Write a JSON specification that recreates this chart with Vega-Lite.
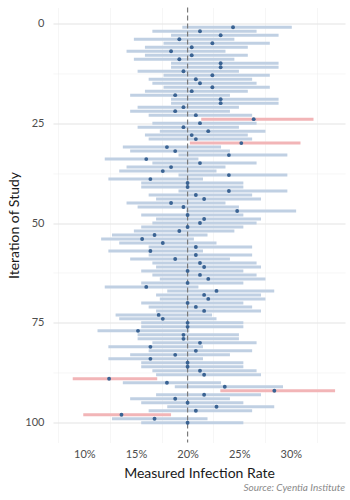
{
  "$schema": "https://vega.github.io/schema/vega-lite/v6.json",
  "width": 292,
  "height": 435,
  "autosize": {"type": "none"},
  "padding": {"left": 53, "top": 7.5, "right": 5, "bottom": 57.5},
  "background": "white",
  "title": {"text": "Source: Cyentia Institute", "orient": "bottom", "anchor": "end", "fontStyle": "italic", "fontWeight": "normal", "fontSize": 10, "color": "#8a8a8a", "font": "Lato", "offset": 2},
  "config": {
    "view": {"stroke": null},
    "font": "Lato",
    "axis": {"domain": false, "ticks": false, "labelFont": "Lato", "titleFont": "Lato", "labelColor": "#4d4d4d", "titleColor": "#1a1a1a", "titleFontWeight": "normal", "labelFontSize": 11, "titleFontSize": 14}
  },
  "resolve": {"axis": {"x": "independent"}},
  "datasets": {
    "sims": [
      {"i":1,"p":24.4,"lo":19.49,"hi":30.09,"c":"in"},
      {"i":2,"p":21.2,"lo":16.59,"hi":26.68,"c":"in"},
      {"i":3,"p":23.2,"lo":18.40,"hi":28.81,"c":"in"},
      {"i":4,"p":19.2,"lo":14.80,"hi":24.53,"c":"in"},
      {"i":5,"p":22.4,"lo":17.67,"hi":27.96,"c":"in"},
      {"i":6,"p":20.4,"lo":15.87,"hi":25.83,"c":"in"},
      {"i":7,"p":18.4,"lo":14.09,"hi":23.67,"c":"in"},
      {"i":8,"p":20.4,"lo":15.87,"hi":25.83,"c":"in"},
      {"i":9,"p":19.2,"lo":14.80,"hi":24.53,"c":"in"},
      {"i":10,"p":23.2,"lo":18.40,"hi":28.81,"c":"in"},
      {"i":11,"p":23.2,"lo":18.40,"hi":28.81,"c":"in"},
      {"i":12,"p":19.6,"lo":15.16,"hi":24.97,"c":"in"},
      {"i":13,"p":22.4,"lo":17.67,"hi":27.96,"c":"in"},
      {"i":14,"p":20.8,"lo":16.23,"hi":26.25,"c":"in"},
      {"i":15,"p":21.2,"lo":16.59,"hi":26.68,"c":"in"},
      {"i":16,"p":22.4,"lo":17.67,"hi":27.96,"c":"in"},
      {"i":17,"p":20.4,"lo":15.87,"hi":25.83,"c":"in"},
      {"i":18,"p":18.8,"lo":14.44,"hi":24.10,"c":"in"},
      {"i":19,"p":23.2,"lo":18.40,"hi":28.81,"c":"in"},
      {"i":20,"p":23.2,"lo":18.40,"hi":28.81,"c":"in"},
      {"i":21,"p":19.6,"lo":15.16,"hi":24.97,"c":"in"},
      {"i":22,"p":18.8,"lo":14.44,"hi":24.10,"c":"in"},
      {"i":23,"p":20.8,"lo":16.23,"hi":26.25,"c":"in"},
      {"i":24,"p":26.4,"lo":21.32,"hi":32.19,"c":"out"},
      {"i":25,"p":21.2,"lo":16.59,"hi":26.68,"c":"in"},
      {"i":26,"p":19.6,"lo":15.16,"hi":24.97,"c":"in"},
      {"i":27,"p":22.0,"lo":17.31,"hi":27.54,"c":"in"},
      {"i":28,"p":20.4,"lo":15.87,"hi":25.83,"c":"in"},
      {"i":29,"p":20.8,"lo":16.23,"hi":26.25,"c":"in"},
      {"i":30,"p":25.2,"lo":20.22,"hi":30.93,"c":"out"},
      {"i":31,"p":18.0,"lo":13.73,"hi":23.24,"c":"in"},
      {"i":32,"p":18.8,"lo":14.44,"hi":24.10,"c":"in"},
      {"i":33,"p":24.0,"lo":19.12,"hi":29.66,"c":"in"},
      {"i":34,"p":16.0,"lo":11.98,"hi":21.05,"c":"in"},
      {"i":35,"p":21.2,"lo":16.59,"hi":26.68,"c":"in"},
      {"i":36,"p":18.4,"lo":14.09,"hi":23.67,"c":"in"},
      {"i":37,"p":17.6,"lo":13.38,"hi":22.80,"c":"in"},
      {"i":38,"p":24.0,"lo":19.12,"hi":29.66,"c":"in"},
      {"i":39,"p":16.4,"lo":12.33,"hi":21.49,"c":"in"},
      {"i":40,"p":20.0,"lo":15.51,"hi":25.40,"c":"in"},
      {"i":41,"p":20.0,"lo":15.51,"hi":25.40,"c":"in"},
      {"i":42,"p":24.0,"lo":19.12,"hi":29.66,"c":"in"},
      {"i":43,"p":20.8,"lo":16.23,"hi":26.25,"c":"in"},
      {"i":44,"p":21.6,"lo":16.95,"hi":27.11,"c":"in"},
      {"i":45,"p":18.4,"lo":14.09,"hi":23.67,"c":"in"},
      {"i":46,"p":19.6,"lo":15.16,"hi":24.97,"c":"in"},
      {"i":47,"p":24.8,"lo":19.86,"hi":30.51,"c":"in"},
      {"i":48,"p":20.0,"lo":15.51,"hi":25.40,"c":"in"},
      {"i":49,"p":21.6,"lo":16.95,"hi":27.11,"c":"in"},
      {"i":50,"p":21.2,"lo":16.59,"hi":26.68,"c":"in"},
      {"i":51,"p":20.0,"lo":15.51,"hi":25.40,"c":"in"},
      {"i":52,"p":19.2,"lo":14.80,"hi":24.53,"c":"in"},
      {"i":53,"p":16.8,"lo":12.68,"hi":21.93,"c":"in"},
      {"i":54,"p":15.6,"lo":11.63,"hi":20.61,"c":"in"},
      {"i":55,"p":17.6,"lo":13.38,"hi":22.80,"c":"in"},
      {"i":56,"p":20.8,"lo":16.23,"hi":26.25,"c":"in"},
      {"i":57,"p":16.4,"lo":12.33,"hi":21.49,"c":"in"},
      {"i":58,"p":20.8,"lo":16.23,"hi":26.25,"c":"in"},
      {"i":59,"p":18.8,"lo":14.44,"hi":24.10,"c":"in"},
      {"i":60,"p":21.2,"lo":16.59,"hi":26.68,"c":"in"},
      {"i":61,"p":21.6,"lo":16.95,"hi":27.11,"c":"in"},
      {"i":62,"p":20.0,"lo":15.51,"hi":25.40,"c":"in"},
      {"i":63,"p":21.2,"lo":16.59,"hi":26.68,"c":"in"},
      {"i":64,"p":22.0,"lo":17.31,"hi":27.54,"c":"in"},
      {"i":65,"p":20.0,"lo":15.51,"hi":25.40,"c":"in"},
      {"i":66,"p":16.0,"lo":11.98,"hi":21.05,"c":"in"},
      {"i":67,"p":22.8,"lo":18.03,"hi":28.39,"c":"in"},
      {"i":68,"p":21.6,"lo":16.95,"hi":27.11,"c":"in"},
      {"i":69,"p":22.0,"lo":17.31,"hi":27.54,"c":"in"},
      {"i":70,"p":20.0,"lo":15.51,"hi":25.40,"c":"in"},
      {"i":71,"p":20.8,"lo":16.23,"hi":26.25,"c":"in"},
      {"i":72,"p":21.6,"lo":16.95,"hi":27.11,"c":"in"},
      {"i":73,"p":17.2,"lo":13.03,"hi":22.37,"c":"in"},
      {"i":74,"p":17.6,"lo":13.38,"hi":22.80,"c":"in"},
      {"i":75,"p":20.0,"lo":15.51,"hi":25.40,"c":"in"},
      {"i":76,"p":20.0,"lo":15.51,"hi":25.40,"c":"in"},
      {"i":77,"p":15.2,"lo":11.28,"hi":20.17,"c":"in"},
      {"i":78,"p":19.6,"lo":15.16,"hi":24.97,"c":"in"},
      {"i":79,"p":19.6,"lo":15.16,"hi":24.97,"c":"in"},
      {"i":80,"p":21.2,"lo":16.59,"hi":26.68,"c":"in"},
      {"i":81,"p":16.4,"lo":12.33,"hi":21.49,"c":"in"},
      {"i":82,"p":20.8,"lo":16.23,"hi":26.25,"c":"in"},
      {"i":83,"p":18.8,"lo":14.44,"hi":24.10,"c":"in"},
      {"i":84,"p":16.4,"lo":12.33,"hi":21.49,"c":"in"},
      {"i":85,"p":20.0,"lo":15.51,"hi":25.40,"c":"in"},
      {"i":86,"p":20.0,"lo":15.51,"hi":25.40,"c":"in"},
      {"i":87,"p":21.2,"lo":16.59,"hi":26.68,"c":"in"},
      {"i":88,"p":21.6,"lo":16.95,"hi":27.11,"c":"in"},
      {"i":89,"p":12.4,"lo":8.88,"hi":17.06,"c":"out"},
      {"i":90,"p":18.0,"lo":13.73,"hi":23.24,"c":"in"},
      {"i":91,"p":23.6,"lo":18.76,"hi":29.24,"c":"in"},
      {"i":92,"p":28.4,"lo":23.17,"hi":34.28,"c":"out"},
      {"i":93,"p":21.6,"lo":16.95,"hi":27.11,"c":"in"},
      {"i":94,"p":18.8,"lo":14.44,"hi":24.10,"c":"in"},
      {"i":95,"p":20.0,"lo":15.51,"hi":25.40,"c":"in"},
      {"i":96,"p":22.8,"lo":18.03,"hi":28.39,"c":"in"},
      {"i":97,"p":20.8,"lo":16.23,"hi":26.25,"c":"in"},
      {"i":98,"p":13.6,"lo":9.90,"hi":18.40,"c":"out"},
      {"i":99,"p":16.8,"lo":12.68,"hi":21.93,"c":"in"},
      {"i":100,"p":20.0,"lo":15.51,"hi":25.40,"c":"in"}
    ],
    "ref": [{"truth": 20}]
  },
  "layer": [
    {
      "data": {"name": "ref"},
      "mark": {"type": "rule", "strokeDash": [5, 3], "strokeWidth": 1.2, "color": "#7a7a7a", "opacity": 0},
      "encoding": {"x": {"field": "truth", "type": "quantitative", "scale": {"domain": [6.97, 35.24], "nice": false, "zero": false},
        "axis": {"orient": "top", "title": null, "labels": false, "values": [7.5, 12.5, 17.5, 22.5, 27.5, 32.5], "gridColor": "#f0f0f0", "gridWidth": 0.6}}}
    },
    {
      "data": {"name": "sims"},
      "mark": {"type": "rule", "strokeWidth": 3, "strokeCap": "butt"},
      "encoding": {
        "y": {"field": "i", "type": "quantitative", "scale": {"domain": [-3.95, 104.95], "reverse": true, "nice": false, "zero": false},
          "axis": {"title": "Iteration of Study", "values": [0, 12.5, 25, 37.5, 50, 62.5, 75, 87.5, 100], "labelExpr": "datum.value % 25 === 0 ? datum.label : ''", "labelPadding": 9, "titlePadding": 3, "titleFontSize": 14,
            "gridColor": {"condition": {"test": "datum.value % 25 === 0", "value": "#e3e3e3"}, "value": "#f0f0f0"},
            "gridWidth": {"condition": {"test": "datum.value % 25 === 0", "value": 1.1}, "value": 0.6}}},
        "x": {"field": "lo", "type": "quantitative",
          "axis": {"orient": "bottom", "title": "Measured Infection Rate", "values": [10, 15, 20, 25, 30], "labelExpr": "datum.label + '%'", "labelPadding": 6, "titlePadding": 7, "gridColor": "#e3e3e3", "gridWidth": 1.1}},
        "x2": {"field": "hi"},
        "color": {"field": "c", "type": "nominal", "scale": {"domain": ["in", "out"], "range": ["#c0d0e3", "#f2b5b7"]}, "legend": null}
      }
    },
    {
      "data": {"name": "ref"},
      "mark": {"type": "rule", "strokeDash": [5, 3], "strokeWidth": 1.2, "color": "#7a7a7a"},
      "encoding": {"x": {"field": "truth", "type": "quantitative", "axis": null}}
    },
    {
      "data": {"name": "sims"},
      "mark": {"type": "circle", "size": 15, "opacity": 1, "color": "#3a6393"},
      "encoding": {
        "y": {"field": "i", "type": "quantitative"},
        "x": {"field": "p", "type": "quantitative", "axis": null}
      }
    }
  ]
}
